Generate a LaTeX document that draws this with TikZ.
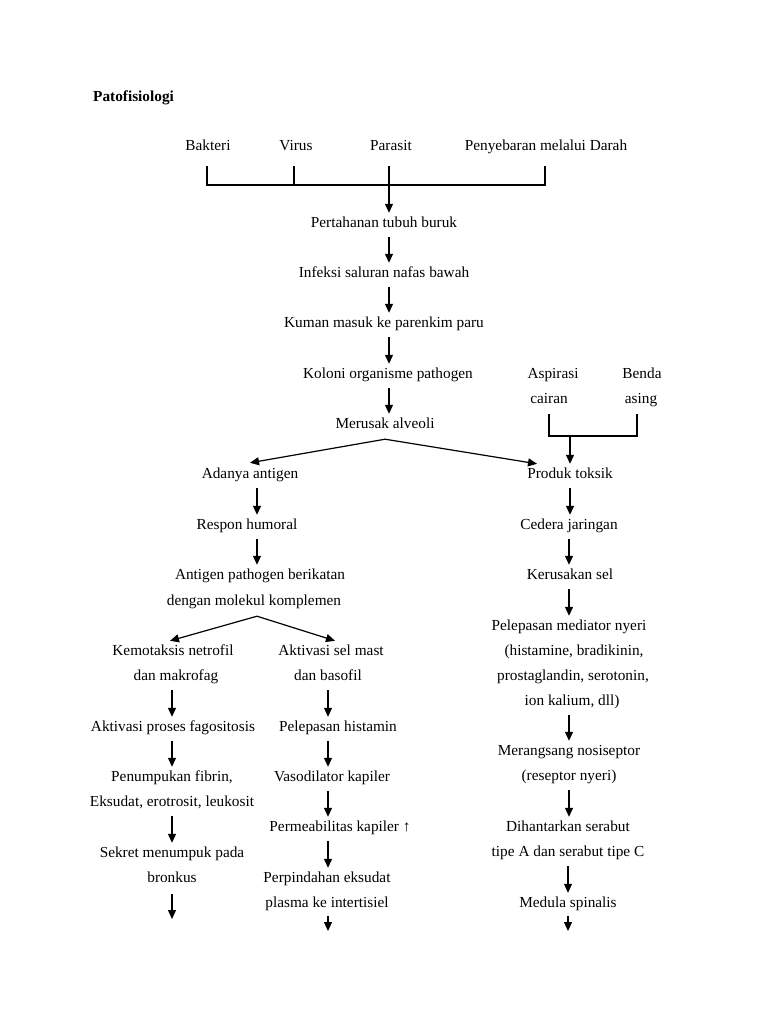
\documentclass[tikz,border=0pt]{standalone}
\usepackage{fontspec}
\setmainfont{Liberation Serif}
\usetikzlibrary{arrows.meta,calc}
\newcommand\varr[3]{\draw[arr] ($(#1.south -| #3,0)+(0,7)$) -- ($(#2.north -| #3,0)+(0,-3)$);}
\begin{document}
\begin{tikzpicture}[x=1pt,y=-1pt,
  every node/.style={font=\fontsize{15.3}{18}\selectfont, inner sep=0pt, text height=11pt, text depth=3pt, yshift=-1pt},
  arr/.style={line width=1.2pt, -{Triangle[length=9pt,width=8pt]}},
  ln/.style={line width=1.2pt}]
\useasboundingbox (0,0) rectangle (768,1024);
\node[anchor=west,font=\fontsize{15.3}{18}\selectfont\bfseries] (title) at (93,97) {Patofisiologi};
% top causes
\node (bak) at (208,146) {Bakteri};
\node (vir) at (296,146) {Virus};
\node (par) at (391,146) {Parasit};
\node (pen) at (546,146) {Penyebaran melalui Darah};
% main column
\node (pth) at (384,222) {Pertahanan tubuh buruk};
\node (inf) at (384,272) {Infeksi saluran nafas bawah};
\node (kum) at (384,322) {Kuman masuk ke parenkim paru};
\node (kol) at (388,373) {Koloni organisme pathogen};
\node (mer) at (385,423) {Merusak alveoli};
\node (asp) at (553,373) {Aspirasi};
\node (cai) at (549,398) {cairan};
\node (ben) at (642,373) {Benda};
\node (asi) at (641,398) {asing};
% left branch
\node (ada) at (250,473) {Adanya antigen};
\node (res) at (247,524) {Respon humoral};
\node (ant1) at (260,574) {Antigen pathogen berikatan};
\node (ant2) at (254,600) {dengan molekul komplemen};
\node (kem1) at (173,650) {Kemotaksis netrofil};
\node (kem2) at (176,675) {dan makrofag};
\node (akt1) at (331,650) {Aktivasi sel mast};
\node (akt2) at (328,675) {dan basofil};
\node (fag) at (173,726) {Aktivasi proses fagositosis};
\node (his) at (338,726) {Pelepasan histamin};
\node (pnm1) at (172,776) {Penumpukan fibrin,};
\node (pnm2) at (172,801) {Eksudat, erotrosit, leukosit};
\node (vas) at (332,776) {Vasodilator kapiler};
\node (prm) at (340,826) {Permeabilitas kapiler ↑};
\node (sek1) at (172,852) {Sekret menumpuk pada};
\node (sek2) at (172,877) {bronkus};
\node (ppd1) at (327,877) {Perpindahan eksudat};
\node (ppd2) at (327,902) {plasma ke intertisiel};
% right branch
\node (prd) at (570,473) {Produk toksik};
\node (ced) at (569,524) {Cedera jaringan};
\node (ker) at (570,574) {Kerusakan sel};
\node (pel1) at (569,625) {Pelepasan mediator nyeri};
\node (pel2) at (574,650) {(histamine, bradikinin,};
\node (pel3) at (573,675) {prostaglandin, serotonin,};
\node (pel4) at (572,700) {ion kalium, dll)};
\node (mrg1) at (569,750) {Merangsang nosiseptor};
\node (mrg2) at (569,775) {(reseptor nyeri)};
\node (dih1) at (568,826) {Dihantarkan serabut};
\node (dih2) at (568,851) {tipe A dan serabut tipe C};
\node (med) at (568,902) {Medula spinalis};
% end coordinates
\coordinate (endL) at (172,918);
\coordinate (endM) at (328,930);
\coordinate (endR) at (568,930);
% top bracket
\draw[ln] (bak.south -| 207,0) ++(0,12) |- (545,185) -- ($(pen.south -| 545,0)+(0,12)$);
\draw[ln] ($(vir.south -| 294,0)+(0,12)$) -- (294,185);
\draw[arr] ($(par.south -| 389,0)+(0,12)$) -- ($(pth.north -| 389,0)+(0,-3)$);
% main arrows
\varr{pth}{inf}{389}
\varr{inf}{kum}{389}
\varr{kum}{kol}{389}
\varr{kol}{mer}{389}
% aspirasi bracket
\draw[ln] ($(cai.south -| 549,0)+(0,8)$) |- (637,436) -- ($(asi.south -| 637,0)+(0,8)$);
\draw[arr] (570,436) -- ($(prd.north -| 570,0)+(0,-3)$);
% fork from merusak
\coordinate (mfork) at ($(mer.south)+(0,7)$);
\draw[arr] (mfork) -- ($(ada.north)+(0,-4)$);
\draw[arr] (mfork) -- ($(prd.north -| 537,0)+(0,-3)$);
% left branch arrows
\varr{ada}{res}{257}
\varr{res}{ant1}{257}
\coordinate (afork) at ($(ant2.south -| 257,0)+(0,7)$);
\draw[arr] (afork) -- ($(kem1.north -| 170,0)+(0,-3)$);
\draw[arr] (afork) -- ($(akt1.north -| 335,0)+(0,-3)$);
\varr{kem2}{fag}{172}
\varr{akt2}{his}{328}
\varr{fag}{pnm1}{172}
\varr{his}{vas}{328}
\varr{pnm2}{sek1}{172}
\varr{vas}{prm}{328}
\varr{prm}{ppd1}{328}
\draw[arr] ($(sek2.south -| 172,0)+(0,9)$) -- (endL);
\draw[arr] ($(ppd2.south -| 328,0)+(0,6)$) -- (endM);
% right branch arrows
\varr{prd}{ced}{570}
\varr{ced}{ker}{569}
\varr{ker}{pel1}{569}
\varr{pel4}{mrg1}{569}
\varr{mrg2}{dih1}{569}
\varr{dih2}{med}{568}
\draw[arr] ($(med.south -| 568,0)+(0,6)$) -- (endR);
\end{tikzpicture}
\end{document}
